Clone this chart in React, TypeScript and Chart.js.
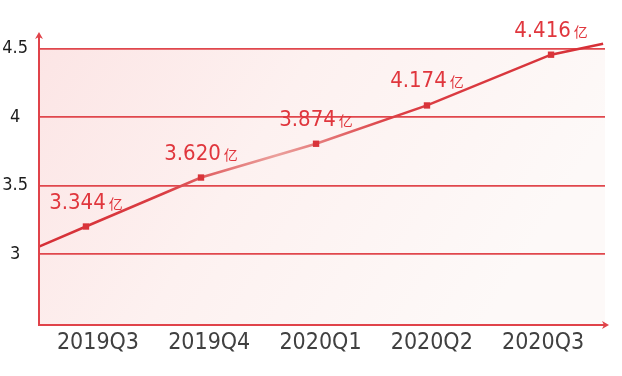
import React, { useEffect, useRef } from 'react';
import { Chart, registerables } from 'chart.js';

Chart.register(...registerables);

const categories = ['2019Q3', '2019Q4', '2020Q1', '2020Q2', '2020Q3'];
const categoryTicks = [0, 1, 2, 3, 4];
const yTickValues = [3, 3.5, 4, 4.5];
const pointX = [-0.108, 0.926, 1.96, 2.957, 4.072];
const pointY = [3.2, 3.558, 3.805, 4.085, 4.456];
const valueLabels = ['3.344', '3.620', '3.874', '4.174', '4.416'];
const unitLabel = '亿';
const trendStart = { x: -0.53, y: 3.053 };
const trendEnd = { x: 4.54, y: 4.536 };

const RED = '#e0434a';
const FONT = "'DejaVu Sans Condensed', 'DejaVu Sans', sans-serif";

const lineData = [
  trendStart,
  ...pointX.map((x, i) => ({ x, y: pointY[i] })),
  trendEnd,
];

const bgPlugin = {
  id: 'bgPlugin',
  beforeDraw(chart: any) {
    const { ctx, chartArea, scales } = chart;
    ctx.save();
    ctx.fillStyle = '#ffffff';
    ctx.fillRect(0, 0, chart.width, chart.height);
    const top = scales.y.getPixelForValue(yTickValues[yTickValues.length - 1]);
    const g = ctx.createLinearGradient(chartArea.left, top, chartArea.right * 0.8, chartArea.bottom);
    g.addColorStop(0, '#fce5e5');
    g.addColorStop(0.45, '#fdf1f0');
    g.addColorStop(1, '#fdf9f8');
    ctx.fillStyle = g;
    ctx.fillRect(chartArea.left, top, chartArea.right - chartArea.left, chartArea.bottom - top);
    ctx.restore();
  },
};

const axesPlugin = {
  id: 'axesPlugin',
  afterDraw(chart: any) {
    const { ctx, chartArea } = chart;
    const l = chartArea.left;
    const b = chartArea.bottom;
    ctx.save();
    ctx.strokeStyle = RED;
    ctx.fillStyle = RED;
    ctx.lineWidth = 2;
    ctx.beginPath();
    ctx.moveTo(l, b + 1);
    ctx.lineTo(l, chartArea.top - 1);
    ctx.stroke();
    ctx.beginPath();
    ctx.moveTo(l, chartArea.top - 3);
    ctx.lineTo(l - 4, chartArea.top + 4);
    ctx.lineTo(l, chartArea.top + 2);
    ctx.lineTo(l + 4, chartArea.top + 4);
    ctx.closePath();
    ctx.fill();
    const r = chartArea.right + 3;
    ctx.beginPath();
    ctx.moveTo(l - 1, b);
    ctx.lineTo(r - 1, b);
    ctx.stroke();
    ctx.beginPath();
    ctx.moveTo(r + 1, b);
    ctx.lineTo(r - 6, b - 4);
    ctx.lineTo(r - 4, b);
    ctx.lineTo(r - 6, b + 4);
    ctx.closePath();
    ctx.fill();
    ctx.restore();
  },
};

const labelPlugin = {
  id: 'labelPlugin',
  afterDatasetsDraw(chart: any) {
    const { ctx } = chart;
    const meta = chart.getDatasetMeta(0);
    ctx.save();
    ctx.fillStyle = '#e0363d';
    ctx.textBaseline = 'alphabetic';
    ctx.textAlign = 'left';
    valueLabels.forEach((txt, i) => {
      const el = meta.data[i + 1];
      if (!el) return;
      const numFont = `22px ${FONT}`;
      const unitFont = `14px 'Noto Sans CJK SC', sans-serif`;
      ctx.font = numFont;
      const w1 = ctx.measureText(txt).width;
      ctx.font = unitFont;
      const w2 = ctx.measureText(unitLabel).width;
      const total = w1 + 3 + w2;
      const sx = el.x - total / 2;
      const by = el.y - 18;
      ctx.font = numFont;
      ctx.fillText(txt, sx, by);
      ctx.font = unitFont;
      ctx.fillText(unitLabel, sx + w1 + 3, by);
    });
    ctx.restore();
  },
};

export default function App() {
  const ref = useRef<HTMLCanvasElement | null>(null);

  useEffect(() => {
    if (!ref.current) return;
    const chart = new Chart(ref.current, {
      type: 'line',
      data: {
        datasets: [
          {
            data: lineData,
            borderWidth: 2.5,
            borderColor: (c: any) => {
              const area = c.chart.chartArea;
              if (!area) return '#d8353b';
              const g = c.chart.ctx.createLinearGradient(area.left, 0, area.right, 0);
              g.addColorStop(0, '#d62f36');
              g.addColorStop(0.22, '#da3d43');
              g.addColorStop(0.42, '#eba09c');
              g.addColorStop(0.62, '#dc4046');
              g.addColorStop(1, '#d62f36');
              return g;
            },
            tension: 0,
            pointStyle: 'rect',
            pointRadius: (c: any) => (c.dataIndex === 0 || c.dataIndex === lineData.length - 1 ? 0 : 4.5),
            pointBackgroundColor: '#d9343a',
            pointBorderWidth: 0,
            pointHoverRadius: 0,
            clip: false as any,
          },
        ],
      },
      options: {
        animation: false,
        responsive: false,
        maintainAspectRatio: false,
        events: [],
        layout: { padding: { top: 35, right: 17, left: 0, bottom: 0 } },
        plugins: {
          legend: { display: false },
          tooltip: { enabled: false },
          title: { display: false },
        },
        scales: {
          x: {
            type: 'linear',
            min: -0.53,
            max: 4.557,
            afterBuildTicks: (s: any) => {
              s.ticks = categoryTicks.map((v) => ({ value: v }));
            },
            afterFit: (s: any) => {
              s.height = 51;
            },
            ticks: {
              callback: (v: any) => categories[Math.round(Number(v))] ?? '',
              color: '#404040',
              font: { family: FONT, size: 23 },
              padding: 4,
              autoSkip: false,
              maxRotation: 0,
            },
            grid: { display: false, drawTicks: false },
            border: { display: false },
          },
          y: {
            type: 'linear',
            min: 2.48,
            max: 4.6,
            afterBuildTicks: (s: any) => {
              s.ticks = yTickValues.map((v) => ({ value: v }));
            },
            afterFit: (s: any) => {
              s.width = 39;
            },
            ticks: {
              callback: (v: any) => String(v),
              color: '#1c1c1c',
              font: { family: FONT, size: 18 },
              crossAlign: 'center',
              padding: 11,
            },
            grid: {
              color: '#e0474d',
              lineWidth: 1.7,
              drawTicks: false,
            },
            border: { display: false },
          },
        },
      },
      plugins: [bgPlugin, axesPlugin, labelPlugin],
    });
    return () => chart.destroy();
  }, []);

  return (
    <div style={{ position: 'fixed', left: 0, top: 0, width: 622, height: 376 }}>
      <canvas ref={ref} width={622} height={376} style={{ width: 622, height: 376, display: 'block' }} />
    </div>
  );
}
